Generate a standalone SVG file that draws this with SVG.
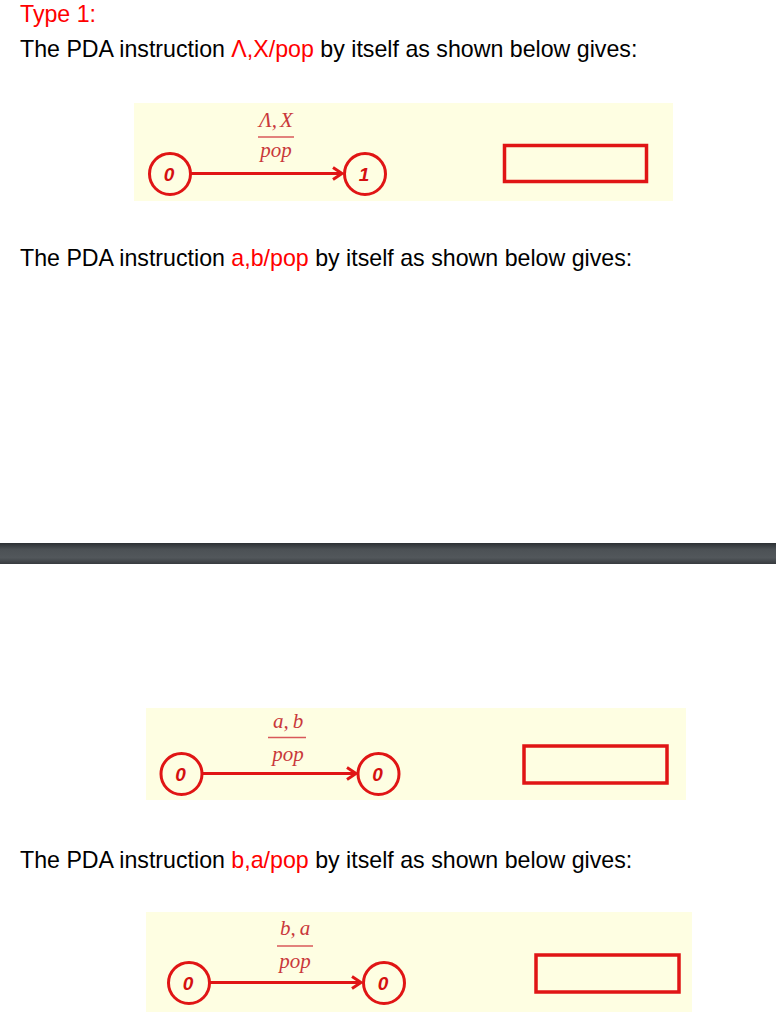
<svg xmlns="http://www.w3.org/2000/svg" width="776" height="1024" viewBox="0 0 776 1024">
<style>
.t{font-family:"Liberation Sans",Arial,sans-serif;font-size:23.2px;fill:#000}
.r{fill:#ff0000}
.panel{fill:#fefee2}
.st{fill:#fefee2;stroke:#e01515;stroke-width:3}
.num{font-family:"Liberation Sans",Arial,sans-serif;font-size:19px;font-weight:bold;font-style:italic;fill:#d41010;text-anchor:middle}
.lab{font-family:"Liberation Serif","Times New Roman",serif;font-size:21px;font-style:italic;fill:#c9383b;text-anchor:middle}
.frac{stroke:#d8585a;stroke-width:1.5}
.edge{stroke:#e01515;stroke-width:3;fill:none}
.box{fill:none;stroke:#e01515;stroke-width:3.5}
</style>
<defs>
<linearGradient id="bar" x1="0" y1="0" x2="0" y2="1">
<stop offset="0" stop-color="#2c3034"/>
<stop offset="0.3" stop-color="#4c5155"/>
<stop offset="0.7" stop-color="#52575b"/>
<stop offset="1" stop-color="#373b3f"/>
</linearGradient>
</defs>
<rect x="0" y="0" width="776" height="1024" fill="#ffffff"/>
<text class="t r" x="20" y="22">Type 1:</text>
<text class="t" x="20" y="57">The PDA instruction <tspan class="r">Λ,X/pop</tspan> by itself as shown below gives:</text>
<text class="t" x="20" y="266">The PDA instruction <tspan class="r">a,b/pop</tspan> by itself as shown below gives:</text>
<rect x="0" y="543" width="776" height="21" fill="url(#bar)"/>
<text class="t" x="20" y="868">The PDA instruction <tspan class="r">b,a/pop</tspan> by itself as shown below gives:</text>

<rect class="panel" x="134" y="103" width="539" height="98"/>
<rect class="panel" x="146" y="708" width="540" height="92"/>
<rect class="panel" x="146" y="912" width="546" height="100"/>

<g id="connectors">
<g id="e1">
<line class="edge" x1="191" y1="173.5" x2="342" y2="173.5"/>
<polyline class="edge" points="333,167.5 342,173.5 333,179.5"/>
<text class="lab" x="276" y="127">Λ,<tspan dx="3">X</tspan></text>
<line class="frac" x1="258" y1="137" x2="294" y2="137"/>
<text class="lab" x="276" y="157">pop</text>
</g>
<g id="e2">
<line class="edge" x1="202" y1="773.5" x2="356" y2="773.5"/>
<polyline class="edge" points="347,767.5 356,773.5 347,779.5"/>
<text class="lab" x="288" y="728">a,<tspan dx="4">b</tspan></text>
<line class="frac" x1="268" y1="737.5" x2="306" y2="737.5"/>
<text class="lab" x="288" y="761">pop</text>
</g>
<g id="e3">
<line class="edge" x1="210" y1="982.5" x2="361" y2="982.5"/>
<polyline class="edge" points="352,976.5 361,982.5 352,988.5"/>
<text class="lab" x="295" y="935">b,<tspan dx="4">a</tspan></text>
<line class="frac" x1="277" y1="946" x2="313" y2="946"/>
<text class="lab" x="295" y="968">pop</text>
</g>
</g>

<g id="p1-s0"><circle class="st" cx="170" cy="174" r="20.5"/><text class="num" x="169" y="181">0</text></g>
<g id="p1-s1"><circle class="st" cx="365" cy="174" r="20.5"/><text class="num" x="364" y="181">1</text></g>
<g id="p1-box"><rect class="box" x="504.5" y="145.5" width="142" height="36"/></g>

<g id="p2-s0"><circle class="st" cx="181.5" cy="774" r="20.5"/><text class="num" x="180.5" y="781">0</text></g>
<g id="p2-s1"><circle class="st" cx="378.5" cy="774" r="20.5"/><text class="num" x="377.5" y="781">0</text></g>
<g id="p2-box"><rect class="box" x="524" y="746" width="143" height="37"/></g>

<g id="p3-s0"><circle class="st" cx="189" cy="983" r="20.5"/><text class="num" x="188" y="990">0</text></g>
<g id="p3-s1"><circle class="st" cx="384" cy="983" r="20.5"/><text class="num" x="383" y="990">0</text></g>
<g id="p3-box"><rect class="box" x="536" y="955" width="143" height="37"/></g>
</svg>
